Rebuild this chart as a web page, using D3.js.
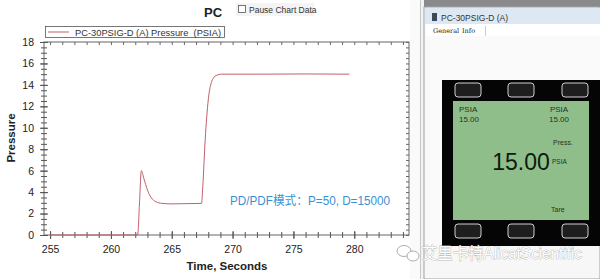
<!DOCTYPE html>
<html>
<head>
<meta charset="utf-8">
<script src="https://cdn.jsdelivr.net/npm/d3@7"></script>
<style>
  body { margin: 0; background: #fff; }
  svg { display: block; font-family: "Liberation Sans", Arial, sans-serif; }
</style>
</head>
<body>
<div id="container"></div>
<script>
// time (s) and pressure (PSIA)
const times = [255, 262.2, 262.35, 262.5, 262.7, 263.0, 263.3, 263.7, 264.2, 265, 266, 267.45, 267.55, 267.75, 268.0, 268.2, 268.4, 268.7, 269.1, 272, 276, 279.6];
const pressures = [0, 0, 3.0, 6.0, 5.3, 4.2, 3.5, 3.1, 2.95, 2.9, 2.92, 2.95, 4.5, 8.9, 12.6, 14.0, 14.6, 14.9, 15.0, 15.0, 15.02, 15.0];
const xTicks = [255, 260, 265, 270, 275, 280];
const yTicks = [0, 2, 4, 6, 8, 10, 12, 14, 16, 18];
const seriesName = "PC-30PSIG-D (A) Pressure  (PSIA)";
const note = "PD/PDF模式：P=50, D=15000";
const lcdSmall = [["PSIA", "15.00"], ["PSIA", "15.00"]];
const lcdMain = "15.00";

const width = 600, height = 279;
const plot = { left: 44, right: 409, top: 42, bot: 235 };
const traceColor = "#c0606a";

const svg = d3.select("#container").append("svg")
  .attr("width", width).attr("height", height);

const xScale = d3.scaleLinear().domain([254.5, 284.5]).range([plot.left, plot.right]);
const yScale = d3.scaleLinear().domain([0, 18]).range([plot.bot, plot.top]);

// plot frame
svg.append("rect")
  .attr("x", plot.left).attr("y", plot.top)
  .attr("width", plot.right - plot.left).attr("height", plot.bot - plot.top)
  .attr("fill", "#fff").attr("stroke", "#666").attr("stroke-width", 1);

const minorX = d3.range(255, 285, 1);
const minorY = d3.range(0, 18.01, 0.5);

// bottom axis: minor ticks crossing the line
svg.append("g")
  .attr("transform", "translate(0," + plot.bot + ")")
  .call(d3.axisBottom(xScale).tickValues(minorX).tickSize(3).tickFormat(""))
  .call(g => g.select(".domain").remove())
  .call(g => g.selectAll("line").attr("y1", -3).attr("stroke", "#555"));
svg.append("g")
  .attr("transform", "translate(0," + plot.bot + ")")
  .call(d3.axisBottom(xScale).tickValues(xTicks).tickSize(4).tickPadding(7))
  .call(g => g.select(".domain").remove())
  .call(g => g.selectAll("line").attr("y1", -4).attr("stroke", "#555"))
  .call(g => g.selectAll("text").attr("font-size", 10.5).attr("fill", "#222")
    .attr("font-family", "Liberation Sans, Arial, sans-serif"));

// left axis
svg.append("g")
  .attr("transform", "translate(" + plot.left + ",0)")
  .call(d3.axisLeft(yScale).tickValues(minorY).tickSize(3).tickFormat(""))
  .call(g => g.select(".domain").remove())
  .call(g => g.selectAll("line").attr("x1", 3).attr("stroke", "#555"));
svg.append("g")
  .attr("transform", "translate(" + plot.left + ",0)")
  .call(d3.axisLeft(yScale).tickValues(yTicks).tickSize(4).tickPadding(6))
  .call(g => g.select(".domain").remove())
  .call(g => g.selectAll("line").attr("x1", 4).attr("stroke", "#555"))
  .call(g => g.selectAll("text").attr("font-size", 10.5).attr("fill", "#222")
    .attr("font-family", "Liberation Sans, Arial, sans-serif"));

// top and right axes: inward ticks only
svg.append("g")
  .attr("transform", "translate(0," + plot.top + ")")
  .call(d3.axisTop(xScale).tickValues(minorX).tickSize(-3).tickFormat(""))
  .call(g => g.select(".domain").remove())
  .call(g => g.selectAll("line").attr("stroke", "#666"));
svg.append("g")
  .attr("transform", "translate(" + plot.right + ",0)")
  .call(d3.axisRight(yScale).tickValues(minorY).tickSize(-3).tickFormat(""))
  .call(g => g.select(".domain").remove())
  .call(g => g.selectAll("line").attr("stroke", "#666"));

// trace
const line = d3.line().x((d, i) => xScale(times[i])).y(d => yScale(d)).curve(d3.curveMonotoneX);
svg.append("path")
  .datum(pressures)
  .attr("d", line)
  .attr("fill", "none")
  .attr("stroke", traceColor)
  .attr("stroke-width", 1);

// axis titles
svg.append("text").text("Time, Seconds")
  .attr("x", 227).attr("y", 270).attr("text-anchor", "middle")
  .attr("font-size", 11.5).attr("font-weight", "bold").attr("fill", "#222");
svg.append("text").text("Pressure")
  .attr("transform", "translate(15,138)rotate(-90)").attr("text-anchor", "middle")
  .attr("font-size", 11.5).attr("font-weight", "bold").attr("fill", "#222");

// title + checkbox
svg.append("text").text("PC")
  .attr("x", 213).attr("y", 17).attr("text-anchor", "middle")
  .attr("font-size", 13).attr("font-weight", "bold").attr("fill", "#222");
svg.append("rect").attr("x", 236).attr("y", 3).attr("width", 78).attr("height", 13).attr("fill", "#f4f4f4");
svg.append("rect").attr("x", 238.5).attr("y", 5.5).attr("width", 7).attr("height", 7)
  .attr("fill", "#fff").attr("stroke", "#555").attr("stroke-width", 0.8);
svg.append("text").text("Pause Chart Data")
  .attr("x", 249).attr("y", 12.5).attr("font-size", 8.5).attr("fill", "#333");

// legend
svg.append("rect").attr("x", 45.5).attr("y", 26.5).attr("width", 179).attr("height", 11)
  .attr("fill", "#fff").attr("stroke", "#555").attr("stroke-width", 0.8);
svg.append("line").attr("x1", 48).attr("x2", 69).attr("y1", 32).attr("y2", 32)
  .attr("stroke", traceColor).attr("stroke-width", 1);
svg.append("text").text(seriesName)
  .attr("x", 75).attr("y", 35.5).attr("font-size", 9.5).attr("fill", "#333")
  .attr("textLength", 146).attr("lengthAdjust", "spacingAndGlyphs")
  .style("white-space", "pre");

// annotation
svg.append("text").text(note)
  .attr("x", 230).attr("y", 205).attr("font-size", 12).attr("fill", "#3d8fd1")
  .attr("textLength", 160).attr("lengthAdjust", "spacingAndGlyphs")
  .attr("font-family", "Liberation Sans, 'Noto Sans CJK SC', sans-serif");

// right-hand instrument window
const win = svg.append("g");
win.append("rect").attr("x", 410).attr("y", 0).attr("width", 190).attr("height", height).attr("fill", "#f3f3f3");
win.append("rect").attr("x", 410).attr("y", 0).attr("width", 10).attr("height", height).attr("fill", "#fafafa");
win.append("line").attr("x1", 420.5).attr("x2", 420.5).attr("y1", 0).attr("y2", height).attr("stroke", "#c8c8c8");
win.append("rect").attr("x", 424).attr("y", 0).attr("width", 176).attr("height", 7).attr("fill", "#8a8a8a");
win.append("rect").attr("x", 424).attr("y", 7).attr("width", 176).attr("height", height - 7)
  .attr("fill", "#f7f7f7").attr("stroke", "#9aa4ae").attr("stroke-width", 1);
win.append("rect").attr("x", 425).attr("y", 8).attr("width", 175).attr("height", 16).attr("fill", "#dde8f3");
win.append("rect").attr("x", 432).attr("y", 13).attr("width", 5).attr("height", 8).attr("fill", "#3a4a5a");
win.append("text").text("PC-30PSIG-D (A)")
  .attr("x", 441).attr("y", 21).attr("font-size", 8.5).attr("fill", "#333");
win.append("rect").attr("x", 426).attr("y", 24).attr("width", 174).attr("height", 12).attr("fill", "#fff");
win.append("text").text("General")
  .attr("x", 433).attr("y", 33).attr("font-size", 6.5).attr("fill", "#222")
  .attr("font-family", "DejaVu Serif, serif");
win.append("text").text("Info")
  .attr("x", 462).attr("y", 33).attr("font-size", 6.5).attr("fill", "#222")
  .attr("font-family", "DejaVu Serif, serif");
win.append("line").attr("x1", 485.5).attr("x2", 485.5).attr("y1", 26).attr("y2", 36).attr("stroke", "#ccc");
win.append("rect").attr("x", 426).attr("y", 36).attr("width", 174).attr("height", 210).attr("fill", "#fafafa");

// device body
win.append("rect").attr("x", 442).attr("y", 80).attr("width", 158).attr("height", 166).attr("fill", "#050505");
const btnX = [455, 508, 562];
btnX.forEach(x => {
  [83, 224].forEach(y => {
    win.append("rect").attr("x", x).attr("y", y).attr("width", 26).attr("height", 14).attr("rx", 3)
      .attr("fill", "#1e1e1e").attr("stroke", "#cfcfcf").attr("stroke-width", 1);
  });
});
win.append("rect").attr("x", 453).attr("y", 101).attr("width", 136).attr("height", 119).attr("fill", "#8fbe8a");
win.append("text").text(lcdSmall[0][0]).attr("x", 459).attr("y", 112).attr("font-size", 8).attr("fill", "#1f3520");
win.append("text").text(lcdSmall[0][1]).attr("x", 459).attr("y", 122).attr("font-size", 8).attr("fill", "#1f3520");
win.append("text").text(lcdSmall[1][0]).attr("x", 559).attr("y", 112).attr("font-size", 8).attr("fill", "#1f3520").attr("text-anchor", "middle");
win.append("text").text(lcdSmall[1][1]).attr("x", 559).attr("y", 122).attr("font-size", 8).attr("fill", "#1f3520").attr("text-anchor", "middle");
win.append("text").text("Press.").attr("x", 553).attr("y", 145).attr("font-size", 7).attr("fill", "#1f3520");
win.append("text").text(lcdMain).attr("x", 521).attr("y", 170).attr("font-size", 23).attr("fill", "#0d1a0d").attr("text-anchor", "middle");
win.append("text").text("PSIA").attr("x", 552).attr("y", 164).attr("font-size", 6.5).attr("fill", "#1f3520");
win.append("text").text("Tare").attr("x", 551).attr("y", 212).attr("font-size", 7).attr("fill", "#1f3520");

// watermark
const wm = svg.append("g");
wm.append("ellipse").attr("cx", 404).attr("cy", 251).attr("rx", 7).attr("ry", 5.5)
  .attr("fill", "#fff").attr("stroke", "#999").attr("stroke-width", 0.8);
wm.append("ellipse").attr("cx", 413).attr("cy", 256).attr("rx", 6).attr("ry", 5)
  .attr("fill", "#fff").attr("stroke", "#999").attr("stroke-width", 0.8);
wm.append("text").text("艾里卡特AlicatScientific")
  .attr("x", 422).attr("y", 259).attr("font-size", 16)
  .attr("textLength", 160).attr("lengthAdjust", "spacingAndGlyphs")
  .attr("font-family", "Liberation Sans, 'Noto Sans CJK SC', sans-serif")
  .attr("fill", "#fff").attr("stroke", "#9a9a9a").attr("stroke-width", 0.6)
  .attr("paint-order", "stroke");
</script>
</body>
</html>
